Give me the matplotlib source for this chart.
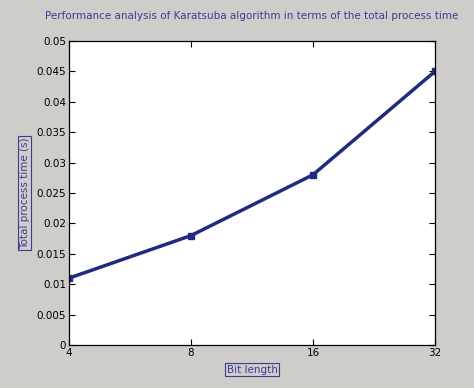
import matplotlib
matplotlib.use("Agg")
import matplotlib.pyplot as plt

# data
bit_length = [4, 8, 16, 32]
process_time = [0.011, 0.018, 0.028, 0.045]
y_ticks = [0, 0.005, 0.01, 0.015, 0.02, 0.025, 0.03, 0.035, 0.04, 0.045, 0.05]
y_tick_labels = ["0", "0.005", "0.01", "0.015", "0.02", "0.025", "0.03",
                 "0.035", "0.04", "0.045", "0.05"]

bg = "#cfcdc9"
navy = "#1f2a80"
label_col = "#3c3c96"

fig = plt.figure(figsize=(4.74, 3.88), dpi=100, facecolor=bg)
ax = fig.add_axes([0.1456, 0.1108, 0.772, 0.7835])
ax.set_facecolor("white")

ax.plot(bit_length, process_time, "-s", color=navy, lw=2.5, ms=5,
        mfc=navy, mec=navy)

ax.set_xscale("log", base=2)
ax.set_xlim(4, 32)
ax.set_xticks(bit_length)
ax.set_xticklabels([str(b) for b in bit_length])
ax.minorticks_off()
ax.set_ylim(0, 0.05)
ax.set_yticks(y_ticks)
ax.set_yticklabels(y_tick_labels)

ax.tick_params(direction="in", length=4, width=0.8, labelsize=7.5,
               top=True, right=True, colors="black", pad=2)
for s in ax.spines.values():
    s.set_linewidth(0.9)
    s.set_color("black")

box = dict(boxstyle="square,pad=0.15", fc="none", ec=label_col, lw=0.8)
ax.set_title("Performance analysis of Karatsuba algorithm in terms of the total process time",
             fontsize=7.5, color=label_col, pad=16)
ax.set_xlabel("Bit length", fontsize=7.5, color=label_col, bbox=box, labelpad=5)
ax.set_ylabel("Total process time (s)", fontsize=7.5, color=label_col, bbox=box,
              labelpad=5)

fig.savefig("out.png", dpi=100, facecolor=bg)
